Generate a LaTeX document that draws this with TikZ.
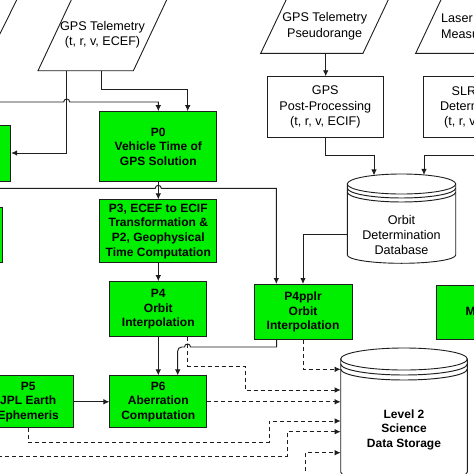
\documentclass[tikz,border=0pt]{standalone}
\usepackage{fontspec}
\setmainfont{Liberation Sans}
\usetikzlibrary{arrows.meta}
\definecolor{boxgreen}{RGB}{0,238,0}
\definecolor{linec}{RGB}{30,30,30}
\begin{document}
\begin{tikzpicture}[x=1pt,y=-1pt,
 gbox/.style={draw=linec, fill=boxgreen, line width=1pt, inner sep=0pt, align=center, font=\fontsize{12}{14.6}\selectfont\bfseries},
 wbox/.style={draw=linec, fill=white, line width=0.9pt, inner sep=0pt, align=center, font=\fontsize{12.6}{15.2}\selectfont},
 shapeline/.style={draw=linec, fill=white, line width=0.9pt},
 conn/.style={draw=linec, line width=0.95pt},
 arr/.style={conn, -{Latex[length=6pt,width=5.5pt]}},
 darr/.style={arr, dash pattern=on 4pt off 3pt},
 txt/.style={align=center, inner sep=0pt, font=\fontsize{12.6}{15.2}\selectfont},
 btxt/.style={align=center, inner sep=0pt, font=\fontsize{12}{14.6}\selectfont\bfseries}
]
\useasboundingbox (0,0) rectangle (474,474);
\clip (0,0) rectangle (474,474);
\fill[white] (0,0) rectangle (474,474);

% ---------- input parallelograms ----------
\draw[shapeline] (-22,78) -- (16.7,0) -- (30,-27) -- (-10,-27) -- cycle;
\draw[shapeline] (38,70.7) -- (133.4,70.7) -- (170.4,-8) -- (75,-8) -- cycle;
\node[txt] (tel) at (102.5,35) {GPS Telemetry\\(t, r, v, ECEF)};
\coordinate (telA) at (66.7,70.7);
\coordinate (telB) at (101.7,70.7);

\draw[shapeline] (260.7,53.3) -- (363,53.3) -- (400,-25) -- (298,-25) -- cycle;
\node[txt] (pseudo) at (324.7,26.2) {GPS Telemetry\\Pseudorange};
\coordinate (pseudoS) at (325.7,53.3);

\draw[shapeline] (415.7,53.3) -- (530,53.3) -- (567,-25) -- (452.7,-25) -- cycle;
\node[txt, anchor=west, align=left] (laser) at (441,26.2) {Laser\\Measurements};

% ---------- white process boxes ----------
\node[wbox, minimum width=116pt, minimum height=60.6pt] (pp) at (325.3,107) {GPS\\Post-Processing\\(t, r, v, ECIF)};
\node[wbox, minimum width=112pt, minimum height=60.6pt] (slr) at (479.3,107) {SLR Orbit\\Determination\\(t, r, v, ECIF)};

% ---------- Orbit Determination Database cylinder ----------
\path[shapeline] (347.3,184) -- (347.3,255) arc[start angle=180, end angle=360, x radius=54.2pt, y radius=8.3pt] -- (455.7,184) -- cycle;
\draw[shapeline] (401.5,184) ellipse [x radius=54.2pt, y radius=10pt];
\draw[conn] (347.3,188) arc[start angle=180, end angle=360, x radius=54.2pt, y radius=10pt];
\draw[conn] (347.3,192) arc[start angle=180, end angle=360, x radius=54.2pt, y radius=10pt];
\node[txt] (db) at (401.5,235) {Orbit\\Determination\\Database};
\coordinate (dbW) at (347.3,234);
\coordinate (dbA) at (374,175.4);
\coordinate (dbB) at (424,174.9);

% ---------- Level 2 storage cylinder ----------
\path[shapeline] (340.7,359) -- (340.7,472) arc[start angle=180, end angle=360, x radius=63.3pt, y radius=10pt] -- (467.3,359) -- cycle;
\draw[shapeline] (404,359) ellipse [x radius=63.3pt, y radius=11pt];
\draw[conn] (340.7,364) arc[start angle=180, end angle=360, x radius=63.3pt, y radius=11pt];
\draw[conn] (340.7,369) arc[start angle=180, end angle=360, x radius=63.3pt, y radius=11pt];
\node[btxt] (store) at (404,429.7) {Level 2\\Science\\Data Storage};

% ---------- green process boxes ----------
\node[gbox, minimum width=50.7pt, minimum height=56pt] (l1) at (-14.7,153) {};
\node[gbox, minimum width=42.7pt, minimum height=54.7pt] (l2) at (-18.7,235.3) {};
\node[gbox, minimum width=116.7pt, minimum height=70pt] (p0) at (158.3,146.7) {P0\\Vehicle Time of\\GPS Solution};
\node[gbox, minimum width=116.7pt, minimum height=62.7pt] (p3) at (158.3,231.3) {P3, ECEF to ECIF\\Transformation \&\\P2, Geophysical\\Time Computation};
\node[gbox, minimum width=96.7pt, minimum height=55pt] (p4) at (158.3,309.2) {P4\\Orbit\\Interpolation};
\node[gbox, minimum width=98pt, minimum height=54.8pt] (p4p) at (303,311.9) {P4pplr\\Orbit\\Interpolation};
\node[gbox, minimum width=96.7pt, minimum height=51.7pt] (p6) at (158.3,401.8) {P6\\Aberration\\Computation};
\node[gbox, minimum width=90.3pt, minimum height=51.7pt] (p5) at (28.2,401.8) {P5\\JPL Earth\\Ephemeris};
\node[gbox, minimum width=98pt, minimum height=54.3pt] (m) at (485.7,312.2) {};
\node[btxt, anchor=west] (mtxt) at (465.5,311) {M};

% ---------- free ends ----------
\coordinate (inA) at (-2,102);
\coordinate (inB) at (-2,188.3);
\coordinate (inC) at (-2,456);
\coordinate (inD) at (305.7,478);

% ---------- solid connectors ----------
\draw[arr] (telA) |- (l1.east);
\draw[arr] (telB) |- (187.7,89) -- ([xshift=29.4pt]p0.north);
\draw[arr] (inA) -- (63.7,102) arc[start angle=180, end angle=0, radius=3pt] -- (158.3,102) -- (p0.north);
\draw[arr] (p0.south) -- (p3.north);
\draw[arr] (inB) -- (155.3,188.3) arc[start angle=180, end angle=0, radius=3pt] -- (276.3,188.3) -- ([xshift=-26.7pt]p4p.north);
\draw[arr] (dbW) -| (p4p.north);
\draw[arr] (p3.south) -- (p4.north);
\draw[arr] (p4.south) -- (p6.north);
\draw[arr] (p5.east) -- (p6.west);
\draw[arr] ([xshift=-26.3pt]p4p.south) -- (276.7,347) -- (190.5,347) arc[start angle=0, end angle=180, radius=3pt] [rounded corners=4pt] -- (177.7,347) -- ([xshift=19.4pt]p6.north);
\draw[arr] (pseudoS) -- (pseudoS |- pp.north);
\draw[arr] ([xshift=0.4pt]pp.south) |- (374,155) -- (dbA);
\draw[arr] (slr.south) |- (424,155) -- (dbB);

% ---------- dashed connectors ----------
\draw[darr] ([xshift=29.2pt]p4.south) -- (187.5,366) -- (245,366) -- (245,390) -- (340.7,390);
\draw[darr] (p6.east) -- (340.7,401.8);
\draw[darr] (p5.south) -- (28.2,442.3) -- (269,442.3) -- (269,421) -- (340.7,421);
\draw[darr] (inC) -- (287.3,456) -- (287.3,431.7) -- (340.7,431.7);
\draw[darr] (inD) -- (305.7,452.7) -- (340.7,452.7);
\draw[darr] (p4p.south) -- (303,369.3) -- (340.7,369.3);
\end{tikzpicture}
\end{document}
